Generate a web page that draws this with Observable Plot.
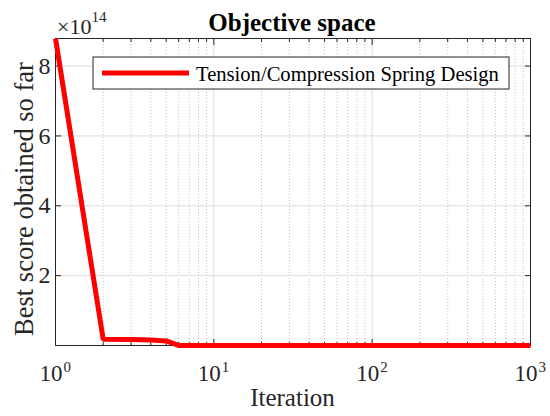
<!DOCTYPE html>
<html><head><meta charset="utf-8">
<script src="https://cdn.jsdelivr.net/npm/d3@7"></script>
<script src="https://cdn.jsdelivr.net/npm/@observablehq/plot@0.6"></script>
<style>
body{margin:0;background:#fff;}
#chart svg{display:block;}
</style></head><body><div id="chart"></div>
<script>
const iterations = [1, 2, 3, 4, 5, 6, 10, 100, 1000];
const bestScore = [8.79e14, 0.18e14, 0.17e14, 0.155e14, 0.13e14, 0.003e14, 0.003e14, 0.003e14, 0.003e14];
const xTicks = [1, 10, 100, 1000];
const xTickExponents = ["0", "1", "2", "3"];
const xMinor = [2,3,4,5,6,7,8,9,20,30,40,50,60,70,80,90,200,300,400,500,600,700,800,900];
const yTicks = [2e14, 4e14, 6e14, 8e14];
const yTickLabels = ["2", "4", "6", "8"];
const yExponent = "14";
const titleText = "Objective space";
const xLabelText = "Iteration";
const yLabelText = "Best score obtained so far";
const seriesName = "Tension/Compression Spring Design";

const data = iterations.map((it, i) => ({iteration: it, score: bestScore[i]}));
const FONT = "'Liberation Serif', 'Times New Roman', serif";
const INK = "#262626";

const plot = Plot.plot({
  width: 550, height: 416,
  marginLeft: 55, marginRight: 20, marginTop: 38, marginBottom: 71,
  style: {fontFamily: FONT, fontSize: "23px", background: "#fff", color: INK, overflow: "visible"},
  x: {type: "log", domain: [1, 1000], axis: null},
  y: {domain: [0, 8.79e14], axis: null},
  marks: [
    Plot.ruleX(xMinor, {stroke: "#b4b4b4", strokeWidth: 0.8, strokeDasharray: "1,2"}),
    Plot.ruleX(xTicks, {stroke: "#dcdcdc", strokeWidth: 1}),
    Plot.ruleY(yTicks, {stroke: "#dcdcdc", strokeWidth: 1}),
    Plot.axisX({anchor: "bottom", ticks: xTicks, tickSize: 6, dy: -6, fill: "none", label: null, stroke: INK}),
    Plot.axisX({anchor: "top", ticks: xTicks, tickSize: 6, dy: 6, fill: "none", label: null, stroke: INK}),
    Plot.axisX({anchor: "bottom", ticks: xMinor, tickSize: 3, dy: -3, fill: "none", label: null, stroke: INK}),
    Plot.axisX({anchor: "top", ticks: xMinor, tickSize: 3, dy: 3, fill: "none", label: null, stroke: INK}),
    Plot.axisY({anchor: "left", ticks: yTicks, tickSize: 6, dx: 6, fill: "none", label: null, stroke: INK}),
    Plot.axisY({anchor: "right", ticks: yTicks, tickSize: 6, dx: -6, fill: "none", label: null, stroke: INK}),
    Plot.axisY({anchor: "left", ticks: yTicks, tickSize: 0, tickPadding: 5, label: null, fill: INK, fontSize: 24,
      tickFormat: d => yTickLabels[yTicks.indexOf(d)]}),
    Plot.text(xTicks, {x: d => d, frameAnchor: "bottom", text: () => "10", textAnchor: "end", lineAnchor: "bottom", dx: 7, dy: 35, fill: INK, fontSize: 23}),
    Plot.text(xTicks, {x: d => d, frameAnchor: "bottom", text: (d, i) => xTickExponents[i], textAnchor: "start", lineAnchor: "bottom", dx: 8, dy: 26, fill: INK, fontSize: 15}),
    Plot.frame({stroke: INK, strokeWidth: 1}),
    Plot.line(data, {x: "iteration", y: "score", stroke: "#ff0000", strokeWidth: 5, strokeLinejoin: "miter", strokeLinecap: "butt"})
  ]
});

document.getElementById("chart").appendChild(plot);
const svg = d3.select(plot);

// title
svg.append("text").attr("x", 292).attr("y", 31).attr("text-anchor", "middle")
  .attr("font-family", FONT).attr("font-size", 25).attr("font-weight", "bold").attr("fill", "#000").text(titleText);
// exponent label
const ex = svg.append("text").attr("x", 57).attr("y", 34).attr("text-anchor", "start")
  .attr("font-family", FONT).attr("font-size", 22).attr("fill", INK);
ex.append("tspan").text("\u00d710");
ex.append("tspan").attr("font-size", 15).attr("dy", -12).text(yExponent);
// axis labels
svg.append("text").attr("x", 292.5).attr("y", 406).attr("text-anchor", "middle")
  .attr("font-family", FONT).attr("font-size", 25).attr("fill", INK).text(xLabelText);
svg.append("text").attr("transform", "translate(33,199) rotate(-90)").attr("text-anchor", "middle")
  .attr("font-family", FONT).attr("font-size", 26.5).attr("fill", INK).text(yLabelText);
// legend
const lg = svg.append("g");
lg.append("rect").attr("x", 93).attr("y", 57).attr("width", 416).attr("height", 32)
  .attr("fill", "#fff").attr("stroke", INK).attr("stroke-width", 1);
lg.append("line").attr("x1", 102).attr("x2", 189).attr("y1", 73).attr("y2", 73)
  .attr("stroke", "#ff0000").attr("stroke-width", 5);
lg.append("text").attr("x", 196).attr("y", 80.5).attr("text-anchor", "start")
  .attr("font-family", FONT).attr("font-size", 20.6).attr("fill", "#000").text(seriesName);
</script></body></html>
